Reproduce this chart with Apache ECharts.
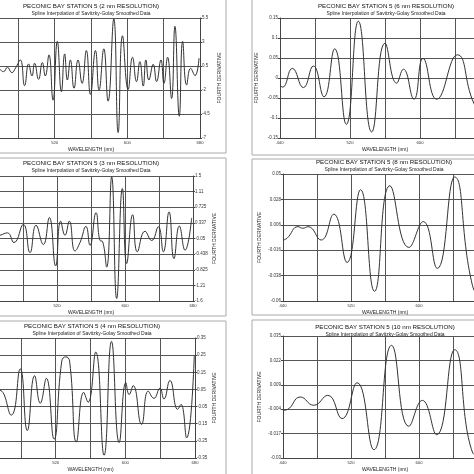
<!DOCTYPE html>
<html><head><meta charset="utf-8">
<script src="https://cdn.jsdelivr.net/npm/echarts@6/dist/echarts.min.js"></script>
<style>html,body{margin:0;padding:0;background:#fff}#c{width:474px;height:474px}</style>
</head><body><div id="c"></div>
<script>
// ---- data (wavelength nm, fourth derivative) ----
const wl2 = [444,448,452,456,459.3,463.7,468,472.8,477,482.1,486.9,491.3,495,497.9,502.3,506.4,509.7,513.7,518.2,522.9,527.4,531,534,537.3,541.3,545.7,550.2,554.9,559.4,564.9,568.9,574.1,578.8,585.1,589.9,594.7,600.9,605.7,610.1,613.8,617.5,620.4,623.7,628.5,632.2,637,640.3,644.3,648.7,652.4,657.2,660.9,665.3,669.7,674.5,678.9];
const v2  = [0.1,0.3,-0.1,0.25,0.16,-0.09,0.37,-0.19,0.3,1.13,-1.55,0.72,-0.54,0.79,-0.89,0.86,-0.54,1.66,-3.06,3.06,-2.18,1.76,-0.96,1.13,-1.83,1.13,-1.31,2.11,-2.46,2.11,-2.01,2.29,-3.16,5.4,-6.44,3.65,-1.94,1.41,-1.13,0.96,-1.59,1.13,-0.96,0.68,-1.13,1.13,-1.31,1.41,-2.88,4.63,-4.73,3.06,-1.48,0.26,-0.5,1.31];

const wl3 = [445,452.9,461.6,469.4,480.4,488.2,495.3,503.9,511,518.4,524.3,529.4,534.5,541.2,547.1,554.1,558.8,565.9,570.6,573.5,578.4,584.3,590.2,596.9,602,609,614.5,623.5,631.4,639.2,645.1,651.8,657.6,663.9,670.6,678.4];
const v3  = [0.0,0.03,0.09,-0.15,0.30,-0.40,0.28,-0.20,0.47,-0.73,0.38,0.03,0.38,-0.36,-0.15,0.25,-0.22,0.59,-0.10,-0.12,-0.76,1.48,-1.54,1.19,-0.67,0.54,-0.38,0.13,-0.10,0.24,-0.38,0.61,-0.55,0.26,-0.34,0.46];

const wl4 = [448,455.5,469,479.3,487.4,495.8,502.3,509.3,518.1,527,531.5,536,543.8,552.2,557.2,566,575.6,584.1,592.9,600.6,604.4,609,618.6,626.3,632.8,639.7,644.3,651.2,660.1,663.9,670.4,679.2];
const v4  = [0.04,0.045,-0.10,0.17,-0.19,0.13,-0.03,0.115,-0.24,0.215,0.24,0.215,-0.256,0.033,-0.025,0.268,-0.334,0.33,-0.26,0.09,0.02,0.072,-0.154,0.04,-0.002,0.057,-0.006,0.102,-0.066,-0.037,-0.233,0.248];

const wl6 = [440,443,454.1,466.7,478.1,490.3,502.5,515.8,529.5,544.8,560,573.3,581,593.1,603.4,619,642.7,661.7,672,680];
const v6  = [-0.018,-0.023,0.024,-0.024,0.030,-0.047,0.073,-0.116,0.142,-0.135,0.087,-0.013,0.022,-0.053,0.049,-0.053,0.058,-0.064,-0.08,-0.07];

const wl8 = [440,444.7,457.7,463.2,469.5,484.8,499.7,515.4,531.2,547.7,565.7,588.1,605,621.5,642,662.8,676,680];
const v8  = [-0.0072,-0.0057,0.0044,0.003,0.0044,-0.0072,0.0152,-0.0266,0.0364,-0.0516,0.0398,-0.0136,0.0088,-0.0318,0.0474,-0.0463,-0.056,-0.055];

const wl10 = [440,445,460.4,476.1,492.7,509.5,527.2,546.9,567.7,588.1,603.9,620.7,642,662.8,676,680];
const v10  = [-0.0046,-0.0042,0.0025,-0.0019,0.0034,-0.009,0.0101,-0.0256,0.03,-0.0131,0.0007,-0.0176,0.0277,-0.0268,-0.029,-0.028];

// ---- tick labels ----
const ticks2  = ['-7','-4.5','-2','0.5','3','5.5'];
const ticks3  = ['-1.6','-1.21','-0.825','-0.438','-0.05','0.337','0.725','1.11','1.5'];
const ticks4  = ['-0.35','-0.25','-0.15','-0.05','0.05','0.15','0.25','0.35'];
const ticks6  = ['-0.15','-0.1','-0.05','0','0.05','0.1','0.15'];
const ticks8  = ['-0.06','-0.038','-0.016','0.006','0.028','0.05'];
const ticks10 = ['-0.03','-0.017','-0.004','0.009','0.022','0.035'];

const titles = ['PECONIC BAY STATION 5 (2 nm RESOLUTION)','PECONIC BAY STATION 5 (3 nm RESOLUTION)','PECONIC BAY STATION 5 (4 nm RESOLUTION)',
                'PECONIC BAY STATION 5 (6 nm RESOLUTION)','PECONIC BAY STATION 5 (8 nm RESOLUTION)','PECONIC BAY STATION 5 (10 nm RESOLUTION)'];
const subtitle = 'Spline Interpolation of Savitzky-Golay Smoothed Data';
const xName = 'WAVELENGTH (nm)';
const yName = 'FOURTH DERIVATIVE';
const xMin = 440, xMax = 680, xStep = 40;

// ---- layout ----
const layout = [
  {wl:wl2, v:v2, t:ticks2, side:'right', g:{left:-18,top:18,width:218,height:120}, tx:91, ty:6, frame:[-5,-5,231,158]},
  {wl:wl3, v:v3, t:ticks3, side:'right', g:{left:-11,top:176,width:204,height:125}, tx:91, ty:163, frame:[-5,158,231,158]},
  {wl:wl4, v:v4, t:ticks4, side:'right', g:{left:-14,top:338,width:209,height:120}, tx:92, ty:326, frame:[-5,321,231,160]},
  {wl:wl6, v:v6, t:ticks6, side:'left', g:{left:280,top:18,width:210,height:120}, tx:386, ty:6, frame:[252,-5,230,160]},
  {wl:wl8, v:v8, t:ticks8, side:'left', g:{left:283,top:174,width:204,height:127}, tx:384, ty:162, frame:[252,159,230,156]},
  {wl:wl10, v:v10, t:ticks10, side:'left', g:{left:283,top:336,width:204,height:122}, tx:385, ty:327, frame:[252,320,230,160]}
];

const font = '"Liberation Sans", Arial, sans-serif';
const grid=[], xAxis=[], yAxis=[], series=[], graphic=[];
layout.forEach((p,i)=>{
  grid.push(Object.assign({containLabel:false, outerBoundsMode:'none'}, p.g));
  xAxis.push({type:'value', gridIndex:i, min:xMin, max:xMax, interval:xStep,
    name:xName, nameLocation:'middle', nameGap:9, nameTextStyle:{fontSize:5, color:'#222', fontFamily:font},
    axisLine:{show:true, onZero:false, lineStyle:{color:'#444', width:1}},
    axisTick:{show:false},
    axisLabel:{fontSize:4.2, color:'#333', margin:3, fontFamily:font, formatter:v=>((v-xMin)%80===0? String(v):'')},
    splitLine:{show:true, lineStyle:{color:'#555', width:1}}});
  const mn = parseFloat(p.t[0]), mx = parseFloat(p.t[p.t.length-1]), step=(mx-mn)/(p.t.length-1);
  yAxis.push({type:'value', gridIndex:i, position:p.side, min:mn, max:mx, interval:step,
    name:yName, nameLocation:'middle', nameGap:p.side==='right'?17:21,
    nameTextStyle:{fontSize:5, color:'#222', fontFamily:font},
    axisLine:{show:true, onZero:false, lineStyle:{color:'#444', width:1}},
    axisTick:{show:true, length:2, lineStyle:{color:'#444'}},
    axisLabel:{fontSize:4.5, color:'#333', margin:2, fontFamily:font, formatter:v=>p.t[Math.round((v-mn)/step)]},
    splitLine:{show:true, lineStyle:{color:'#555', width:1}}});
  series.push({type:'line', xAxisIndex:i, yAxisIndex:i, smooth:0.5, showSymbol:false, symbol:'none',
    lineStyle:{color:'#333', width:1}, data:p.wl.map((w,k)=>[w,p.v[k]]), animation:false});
  graphic.push({type:'rect', z:-10, shape:{x:p.frame[0],y:p.frame[1],width:p.frame[2],height:p.frame[3]},
    style:{fill:'#fff', stroke:'#aaa', lineWidth:1}});
  graphic.push({type:'text', z:10, style:{text:titles[i], x:p.tx, y:p.ty, textAlign:'center', textVerticalAlign:'middle', fontSize:6.2, fill:'#111', fontFamily:font}});
  graphic.push({type:'text', z:10, style:{text:subtitle, x:p.tx, y:p.ty+8, textAlign:'center', textVerticalAlign:'middle', fontSize:5, fill:'#222', fontFamily:font}});
});

const chart = echarts.init(document.getElementById('c'), null, {renderer:'canvas'});
chart.setOption({animation:false, backgroundColor:'#fff', grid, xAxis, yAxis, series, graphic});
</script></body></html>
